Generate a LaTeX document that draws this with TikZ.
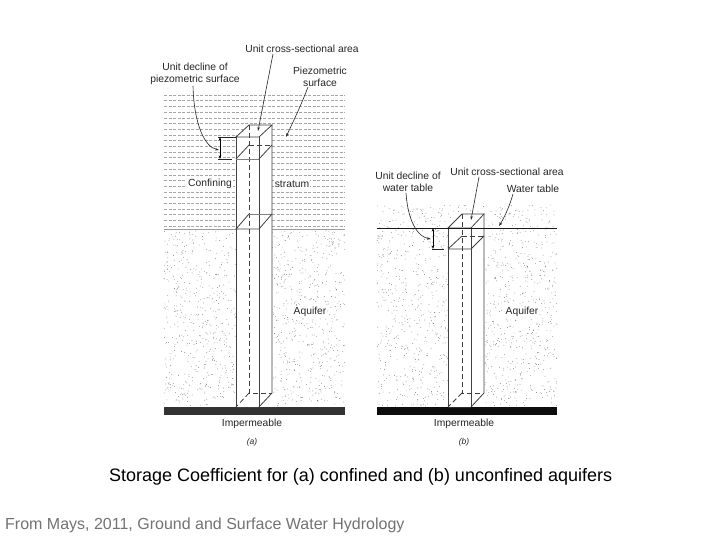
\documentclass[tikz,border=0pt]{standalone}
\usepackage{fontspec}
\setmainfont{Liberation Sans}
\usetikzlibrary{arrows.meta}
\usetikzlibrary{positioning}
\definecolor{bandgray}{gray}{0.2}
\tikzset{
  lbl/.style={font=\fontsize{10.3}{12}\selectfont, align=center, inner sep=1pt, text=black!85},
  edgeline/.style={draw=black!75, line width=0.8pt},
  hiddenline/.style={draw=black!75, line width=0.8pt, dash pattern=on 5pt off 3pt},
  pointer/.style={draw=black!85, line width=0.6pt, -{Stealth[length=4pt,width=2.5pt]}},
  unitarrow/.style={draw=black, line width=0.6pt, {Stealth[length=3.5pt,width=2.5pt]}-{Stealth[length=3.5pt,width=2.5pt]}},
  tick/.style={draw=black!85, line width=0.6pt},
}
\begin{document}
\begin{tikzpicture}[x=1pt,y=-1pt]
\useasboundingbox [fill=white] (0,0) rectangle (720,540);

% confining layer
\foreach \row in {0,...,23}
  \draw [black!35, line width=0.4pt, dash pattern=on 3pt off 1.5pt]
    (164,95+5.7*\row) -- (345,95+5.7*\row);
\draw [black!40, line width=0.9pt] (164,229) -- (345,229);

% sand
\pgfmathsetseed{2011}
\foreach \n in {1,...,1300}
  \fill [black!60] (164+181*rnd,231+175*rnd) circle (0.38pt);
\foreach \n in {1,...,1450}
  \fill [black!60] (377+180*rnd,205+201*rnd) circle (0.38pt);

% impermeable
\fill [bandgray] (164,407) rectangle (345,415);
\fill [black!95] (377,407) rectangle (557,415);

% column a
\fill [white] (236,137) -- (249,125) -- (272,125) -- (272,393) -- (259,407) -- (236,407) -- cycle;
\draw [hiddenline] (249,125) -- (249,393) -- (272,393);
\draw [hiddenline] (249,393) -- (236,407);
\draw [hiddenline] (249,145) -- (272,145);
\draw [edgeline] (236,137) -- (249,125) -- (272,125) -- (259,137) -- cycle;
\draw [edgeline] (236,137) -- (236,407) -- (259,407) -- (259,137);
\draw [edgeline] (272,125) -- (272,393) -- (259,407);
\draw [edgeline] (236,159) -- (249,145) (259,159) -- (272,145);
\draw [edgeline, black!50] (236,159) -- (259,159);
\draw [edgeline, black!50] (249,214) -- (272,214);
\draw [edgeline] (236,229) -- (249,214) (259,229) -- (272,214) (236,229) -- (259,229);

% column b
\fill [white] (448,228) -- (462,214) -- (484,214) -- (484,393) -- (471,407) -- (448,407) -- cycle;
\draw [hiddenline] (462,214) -- (462,393) -- (484,393);
\draw [hiddenline] (462,393) -- (448,407);
\draw [hiddenline] (462,236) -- (484,236);
\draw [edgeline] (448,228) -- (462,214) -- (484,214) -- (471,228) -- cycle;
\draw [edgeline] (448,228) -- (448,407) (471,228) -- (471,407);
\draw [edgeline] (484,214) -- (484,393) -- (471,407);
\draw [edgeline] (448,249) -- (462,236) (471,249) -- (484,236) (448,249) -- (471,249);

% water table
\draw [black!90, line width=0.8pt] (377,228) -- (557,228);

% labels a
\node [lbl] (areaA) at (302,49) {Unit cross-sectional area};
\node [lbl] (declineA) at (195,74) {Unit decline of\\piezometric surface};
\node [lbl] (piezoA) at (320,77) {Piezometric\\surface};
\node [lbl, fill=white] (confining) at (210,184) {Confining};
\node [lbl, fill=white] (stratum) at (292,184) {stratum};
\node [lbl, fill=white] (aquiferA) at (310,312) {Aquifer};
\node [lbl] (imperA) at (252,424) {Impermeable};
\node [lbl, font=\fontsize{8.5}{10}\selectfont\rmfamily\itshape] (partA) at (252,442) {(a)};

% labels b
\node [lbl] (areaB) at (507,172) {Unit cross-sectional area};
\node [lbl] (declineB) at (408,182) {Unit decline of\\water table};
\node [lbl] (tableB) at (533,189) {Water table};
\node [lbl, fill=white] (aquiferB) at (522,312) {Aquifer};
\node [lbl] (imperB) at (464,424) {Impermeable};
\node [lbl, font=\fontsize{8.5}{10}\selectfont\rmfamily\itshape] (partB) at (464,442) {(b)};

% free ends
\coordinate (topA) at (258,131);
\coordinate (surfA) at (286,137);
\coordinate (unitA) at (219,150);
\coordinate (topB) at (471,220);
\coordinate (surfB) at (499,226);
\coordinate (unitB) at (431,239);

% pointers
\draw [pointer] ([xshift=-29pt]areaA.south) -- (topA);
\draw [pointer] ([xshift=-12pt,yshift=1pt]piezoA.south) .. controls (300,108) and (292,124) .. (surfA);
\draw [pointer] ([xshift=-2pt]declineA.south) .. controls (194,125) and (205,147) .. (unitA);
\draw [pointer] ([xshift=-28pt]areaB.south) -- (topB);
\draw [pointer] ([xshift=-20pt]tableB.south) .. controls (509,208) and (504,218) .. (surfB);
\draw [pointer] ([xshift=-2pt]declineB.south) .. controls (408,222) and (418,237) .. (unitB);

% unit decline a
\coordinate (upA) at (220,137);
\coordinate (lowA) at (220,159);
\draw [unitarrow] (upA) -- (lowA);
\draw [tick] (218,137) -- (236,137);
\draw [tick] (218,159) -- (232,159);

% unit decline b
\coordinate (upB) at (433,228);
\coordinate (lowB) at (433,249);
\draw [unitarrow] (upB) -- (lowB);
\draw [tick] (432,249) -- (444,249);

% caption
\node [font=\fontsize{18}{21}\selectfont, inner sep=0pt, anchor=west] (cap) at (109,477) {Storage Coefficient for (a) confined and (b) unconfined aquifers};
\node [font=\fontsize{16}{19}\selectfont, inner sep=0pt, anchor=west, text=black!55] (source) at (5,525) {From Mays, 2011, Ground and Surface Water Hydrology};
\end{tikzpicture}
\end{document}
